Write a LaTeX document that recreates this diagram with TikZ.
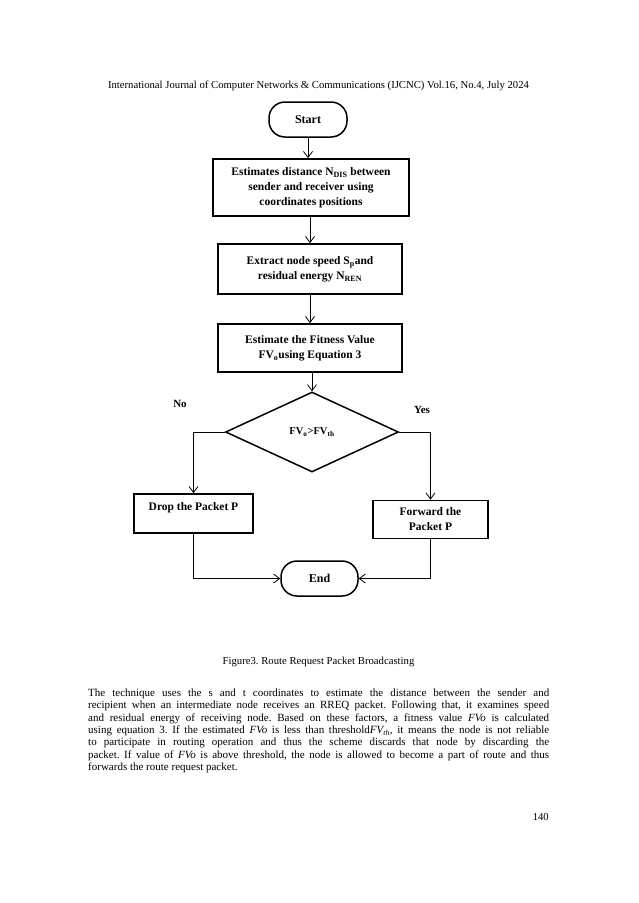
\documentclass[tikz,border=0pt]{standalone}
\usepackage{fontspec}
\setmainfont{Liberation Serif}
\usetikzlibrary{arrows.meta,shapes.geometric}
\frenchspacing
\begin{document}
\begin{tikzpicture}[x=1pt,y=-1pt,
  box/.style={draw,line width=1.8pt,align=center,font=\fontsize{11.5}{15}\selectfont\bfseries,inner sep=0pt},
  term/.style={draw,line width=1.5pt,rounded corners=16pt,font=\fontsize{12}{14}\selectfont\bfseries,minimum width=78pt,minimum height=35pt,inner sep=0pt},
  arr/.style={line width=0.8pt,-{Straight Barb[length=6pt,width=9pt,line width=0.8pt]}},
  lbl/.style={font=\fontsize{11}{13}\selectfont\bfseries,inner sep=0pt},
  txt/.style={font=\fontsize{10.7}{12.3}\selectfont,inner sep=0pt},
  body/.style={font=\fontsize{11}{12.3}\selectfont,inner sep=0pt,anchor=base west}]
\useasboundingbox[fill=white] (0,0) rectangle (638,903);

% header
\node[txt,anchor=base] (hdr) at (318.5,88.5) {International Journal of Computer Networks \& Communications (IJCNC) Vol.16, No.4, July 2024};

% flowchart
\node[term] (start) at (308,119.5) {Start};
\node[box,minimum width=196pt,minimum height=57pt] (b1) at (311,187.5)
  {Estimates distance N\textsubscript{DIS} between\\sender and receiver using\\coordinates positions};
\node[box,minimum width=184pt,minimum height=50pt] (b2) at (310,269)
  {Extract node speed S\textsubscript{p}and\\residual energy N\textsubscript{REN}};
\node[box,minimum width=184pt,minimum height=48pt] (b3) at (310,348)
  {Estimate the Fitness Value\\FV\textsubscript{o}using Equation 3};
\node[draw,diamond,line width=1.5pt,minimum width=173pt,minimum height=80pt,inner sep=0pt,
  font=\fontsize{10.5}{13}\selectfont\bfseries] (d) at (312,432) {FV\textsubscript{o}>FV\textsubscript{th}};
\node[lbl] (no) at (180,404) {No};
\node[lbl] (yes) at (422,410) {Yes};
\node[box,minimum width=119pt,minimum height=39pt] (drop) at (193.5,513.5) {Drop the Packet P\\[-1pt]\mbox{}};
\node[box,minimum width=115pt,minimum height=38pt] (fwd) at (430.5,519.5) {Forward the\\Packet P};
\node[term,minimum width=77pt] (end) at (319.5,578.5) {End};

\draw[arr] (start.south) -- (start.south |- b1.north);
\draw[arr] (b1.south -| 310,0) -- (b2.north);
\draw[arr] (b2.south) -- (b3.north);
\draw[arr] (b3.south -| d.north) -- (d.north);
\draw[arr] (d.west) -| (drop.north);
\draw[arr] (d.east) -| (fwd.north);
\draw[arr] (drop.south) |- (end.west);
\draw[arr] (fwd.south) |- (end.east);

% caption
\node[txt,anchor=base] (cap) at (318.5,664.5) {Figure3. Route Request Packet Broadcasting};

% paragraph
\node[body] (p1) at (88,696.5) {\hbox to 461pt{The technique uses the s and t coordinates to estimate the distance between the sender and}};
\node[body] (p2) at (88,708.8) {\hbox to 461pt{recipient when an intermediate node receives an RREQ packet. Following that, it examines speed}};
\node[body] (p3) at (88,721.1) {\hbox to 461pt{and residual energy of receiving node. Based on these factors, a fitness value \textit{FVo} is calculated}};
\node[body] (p4) at (88,733.4) {\hbox to 461pt{using equation 3. If the estimated \textit{FVo} is less than threshold\textit{FV\textsubscript{th}}, it means the node is not reliable}};
\node[body] (p5) at (88,745.7) {\hbox to 461pt{to participate in routing operation and thus the scheme discards that node by discarding the}};
\node[body] (p6) at (88,758.0) {\hbox to 461pt{packet. If value of \textit{FVo} is above threshold, the node is allowed to become a part of route and thus}};
\node[body] (p7) at (88,770.3) {forwards the route request packet.};

% page number
\node[txt,anchor=base east] (pg) at (549,820) {140};
\end{tikzpicture}
\end{document}
